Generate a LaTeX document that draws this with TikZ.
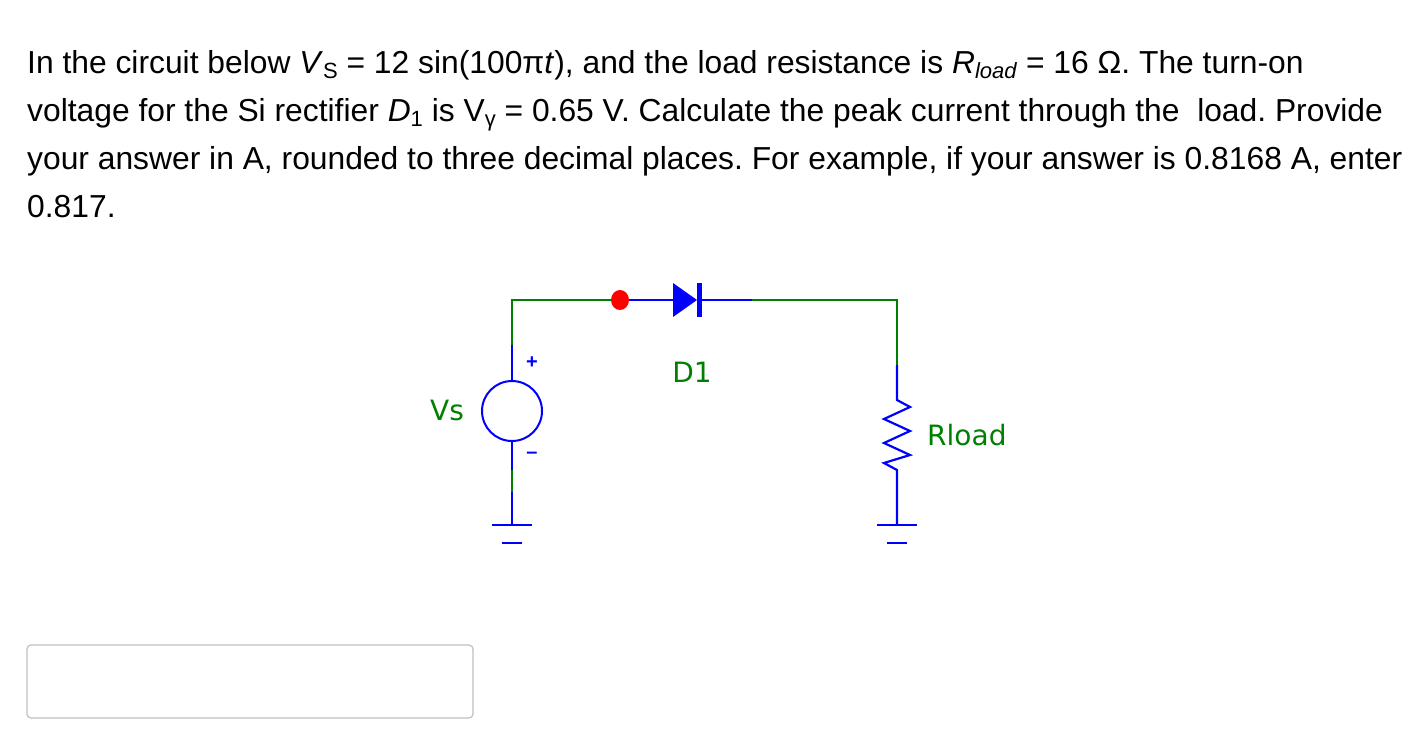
\documentclass[tikz,border=0pt]{standalone}
\usepackage{fontspec}
\usetikzlibrary{shapes.geometric}
\setmainfont{Liberation Sans}
\newfontfamily\dv{DejaVu Sans}
\newcommand\lsub[1]{\raisebox{-0.35ex}{\fontsize{22}{22}\selectfont #1}}
\frenchspacing
\begin{document}
\begin{tikzpicture}[x=1pt,y=-1pt,
  txt/.style={anchor=base west,inner sep=0pt,font=\fontsize{31.8}{32}\selectfont},
  lab/.style={inner sep=0pt,text=green!50!black,font=\dv\fontsize{28}{28}\selectfont},
  gw/.style={draw=green!50!black,line width=2pt},
  bw/.style={draw=blue,line width=2.2pt}]
\useasboundingbox (0,0) rectangle (1420,750);
\node[txt] (l1) at (27,73) {In the circuit below \textit{V}\lsub{S} = 12 sin(100π\textit{t}), and the load resistance is \textit{R}\lsub{\textit{load}} = 16 Ω. The turn-on};
\node[txt] (l2) at (27,121) {voltage for the Si rectifier \textit{D}\lsub{1} is V\lsub{γ} = 0.65 V. Calculate the peak current through the \ load. Provide};
\node[txt] (l3) at (27,169) {your answer in A, rounded to three decimal places. For example, if your answer is 0.8168 A, enter};
\node[txt] (l4) at (27,217) {0.817.};
% wires
\coordinate (tl) at (512,300);
\coordinate (tr) at (897,300);
\coordinate (dot) at (620,300);
\coordinate (da) at (673,300);
\coordinate (dk) at (700,300);
\coordinate (de) at (752,300);
\draw[gw] (512,345) -- (tl) -- (dot);
\draw[bw] (dot) -- (da);
\fill[blue] (673,283) -- (697,300) -- (673,317) -- cycle;
\draw[blue,line width=5pt] (699,283) -- (699,317);
\draw[bw] (dk) -- (de);
\draw[gw] (de) -- (tr) -- (897,365);
\fill[red] (dot) ellipse (9 and 10);
% source
\node[draw=blue,line width=2pt,ellipse,minimum width=60,minimum height=60,inner sep=0pt] (vs) at (512,411) {};
\draw[bw] (512,345) -- (vs.north);
\draw[bw] (vs.south) -- (512,470);
\draw[gw] (512,470) -- (512,492);
\draw[bw] (512,492) -- (512,525);
\draw[bw] (492,525) -- (532,525);
\draw[bw] (502,543) -- (522,543);
\node[text=blue,font=\bfseries\fontsize{20}{20}\selectfont,inner sep=0pt] (pl) at (532,363) {+};
\node[text=blue,font=\bfseries\fontsize{20}{20}\selectfont,inner sep=0pt] (mi) at (532,455) {–};
% resistor
\draw[bw] (897,365) -- (897,400) -- (910,407) -- (884,419) -- (910,431) -- (884,443) -- (910,455) -- (884,463) -- (897,470) -- (897,525);
\draw[bw] (877,525) -- (917,525);
\draw[bw] (887,543) -- (907,543);
% labels
\node[lab] (lvs) at (447,410) {Vs};
\node[lab] (ld) at (692,372) {D1};
\node[lab,anchor=west] (lr) at (927,435) {Rload};
% answer box
\draw[draw=gray!50,line width=1.2pt,rounded corners=4] (27,645) rectangle (473,718);
\end{tikzpicture}
\end{document}
